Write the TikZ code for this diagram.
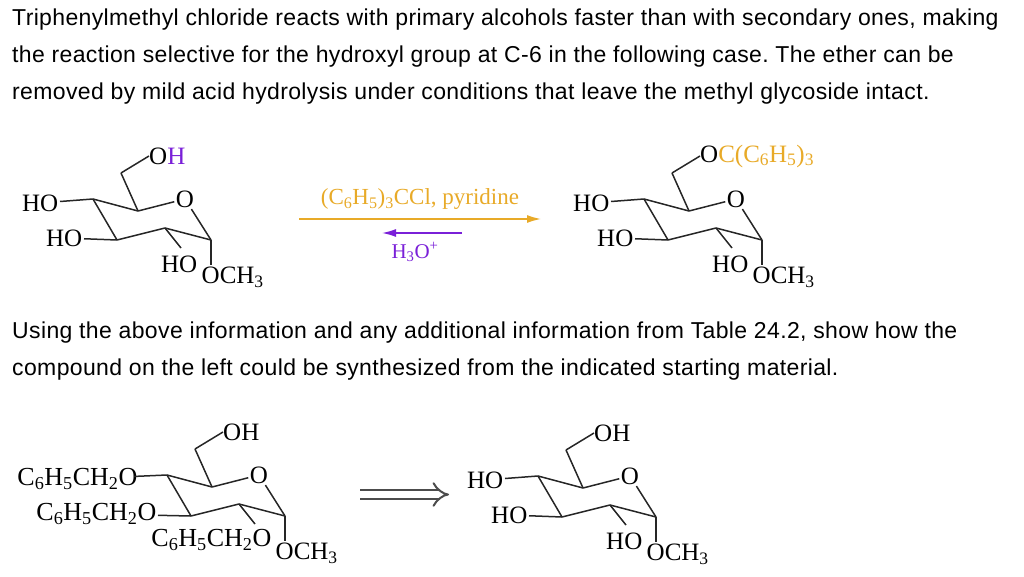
\documentclass[tikz,border=0pt]{standalone}
\usepackage{fontspec}
\setmainfont[LetterSpace=1.6]{Liberation Sans}
\newfontfamily\chemfont{Liberation Serif}
\usetikzlibrary{positioning}
\usetikzlibrary{arrows.meta}
\definecolor{myorange}{RGB}{232,170,40}
\definecolor{mypurple}{RGB}{122,32,216}
\newcommand{\benzyl}{\fontsize{26}{28}\selectfont C\textsubscript{6}H\textsubscript{5}CH\textsubscript{2}O}
\tikzset{
    mytext/.style = {anchor=base west,inner sep=0pt,font=\fontsize{23}{26}\selectfont\frenchspacing,text=black},
    myatom/.style = {inner sep=1.5pt,font=\chemfont\fontsize{25}{28}\selectfont,text=black},
    myreagent/.style = {inner sep=1pt,font=\chemfont\fontsize{23}{24}\selectfont},
    myion/.style = {inner sep=1pt,font=\chemfont\fontsize{21}{24}\selectfont},
    edgen/.style = {-,line width=1.5pt,black!85,line join=round},
    edgeo/.style = {-{Latex[length=14pt,width=8pt]},line width=1.5pt,myorange},
    edgep/.style = {-{Latex[length=14pt,width=8pt]},line width=1.5pt,mypurple},
    edgei/.style = {-{Implies},double,double distance=6.5pt,line width=2pt,black!70}
}
% name, x, y, top group, left upper, left lower, bottom left
\newcommand{\sugarring}[7]{
\begin{scope}[shift={(#2,#3)},name prefix=#1-]
\coordinate (c4) at (93,199);
\coordinate (c5) at (138,211);
\coordinate (c1) at (211,240);
\coordinate (c2) at (165,228);
\coordinate (c3) at (117,240);
\coordinate (c6) at (121,173);
\coordinate (e2) at (181,248);
\node[myatom] at (185,199) (o) {O};
\node[myatom,anchor=west,inner sep=0pt] at (149,156) (top) {#4};
\node[myatom,anchor=east] at (60,203) (hoa) {#5};
\node[myatom,anchor=east] at (84,238) (hob) {#6};
\node[myatom,anchor=east] at (199,264) (hoc) {#7};
\node[myatom,anchor=west] at (200,277) (och) {OCH\textsubscript{3}};
%
\draw[edgen] (hoa) -- (c4);
\draw[edgen] (c4) -- (c5);
\draw[edgen] (c5) -- (o);
\draw[edgen] (o) -- (c1);
\draw[edgen] (c1) -- (c2);
\draw[edgen] (c2) -- (c3);
\draw[edgen] (c3) -- (c4);
\draw[edgen] (hob) -- (c3);
\draw[edgen] (c5) -- (c6);
\draw[edgen] (c6) -- (top.west);
\draw[edgen] (c2) -- (e2);
\draw[edgen] (c1) -- (c1 |- och.north);
\end{scope}
}

\begin{document}
\begin{tikzpicture}[x=1pt,y=-1pt]
\useasboundingbox (0,0) rectangle (1024,577);
%
\node[mytext] at (12,26) (la) {Triphenylmethyl chloride reacts with primary alcohols faster than with secondary ones, making};
\node[mytext] at (12,63) (lb) {the reaction selective for the hydroxyl group at C-6 in the following case. The ether can be};
\node[mytext] at (12,100) (lc) {removed by mild acid hydrolysis under conditions that leave the methyl glycoside intact.};
\node[mytext] at (12,338) (ld) {Using the above information and any additional information from Table 24.2, show how the};
\node[mytext] at (12,375) (le) {compound on the left could be synthesized from the indicated starting material.};
%
\sugarring{a}{0}{0}{O\textcolor{mypurple}{H}}{HO}{HO}{HO}
\sugarring{b}{551}{0}{O\textcolor{myorange}{C(C\textsubscript{6}H\textsubscript{5})\textsubscript{3}}}{HO}{HO}{HO}
\sugarring{c}{74}{276}{OH}{\raisebox{-3pt}{\benzyl}\kern-5pt}{\benzyl}{\benzyl}
\sugarring{d}{445}{277}{OH}{HO}{HO}{HO}
%
\coordinate (ol) at (299,219);
\coordinate (or) at (541,219);
\coordinate (pr) at (462,233);
\coordinate (pl) at (382,233);
\coordinate (il) at (360,494.5);
\coordinate (ir) at (449,494.5);
\node[myreagent,text=myorange] at (420,199) (ro) {(C\textsubscript{6}H\textsubscript{5})\textsubscript{3}CCl, pyridine};
\node[myion,text=mypurple] at (415,252) (rp) {H\textsubscript{3}O\textsuperscript{+}};
%
\draw[edgeo] (ol) -- (or);
\draw[edgep] (pr) -- (pl);
\draw[edgei] (il) -- (ir);
\end{tikzpicture}
\end{document}
